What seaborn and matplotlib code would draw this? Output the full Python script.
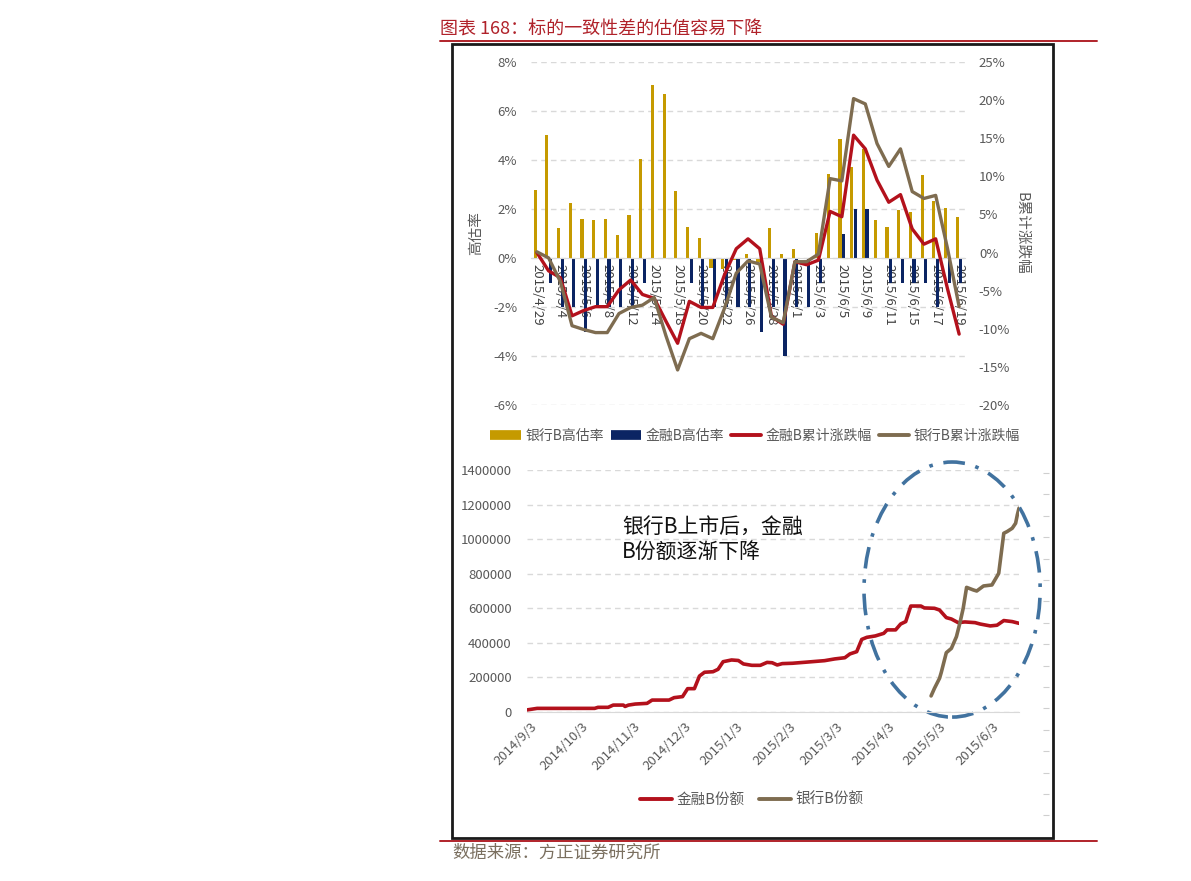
import numpy as np
import pandas as pd
import matplotlib
matplotlib.use('Agg')
import matplotlib.pyplot as plt
from matplotlib.patches import Ellipse, Rectangle
from matplotlib.lines import Line2D
import seaborn as sns

sns.set_style('white')
plt.rcParams['font.family'] = ['Noto Sans CJK SC', 'DejaVu Sans']
plt.rcParams['axes.unicode_minus'] = False

# ---- top chart data (percent) ----
dates_top = ['2015/4/29', '2015/4/30', '2015/5/4', '2015/5/5', '2015/5/6', '2015/5/7',
             '2015/5/8', '2015/5/11', '2015/5/12', '2015/5/13', '2015/5/14', '2015/5/15',
             '2015/5/18', '2015/5/19', '2015/5/20', '2015/5/21', '2015/5/22', '2015/5/25',
             '2015/5/26', '2015/5/27', '2015/5/28', '2015/5/29', '2015/6/1', '2015/6/2',
             '2015/6/3', '2015/6/4', '2015/6/5', '2015/6/8', '2015/6/9', '2015/6/10',
             '2015/6/11', '2015/6/12', '2015/6/15', '2015/6/16', '2015/6/17', '2015/6/18',
             '2015/6/19']
bank_prem = [2.76, 5.03, 1.22, 2.24, 1.60, 1.56, 1.60, 0.94, 1.75, 4.06, 7.05, 6.71,
             2.72, 1.26, 0.83, -0.41, -0.45, -0.10, 0.16, -0.16, 1.22, 0.16, 0.35, 0.0,
             1.03, 3.44, 4.84, 3.72, 4.45, 1.56, 1.26, 1.94, 1.89, 3.40, 2.34, 2.04, 1.66]
fin_prem = [0, -1.0, -2.0, -2.0, -3.0, -2.0, -2.0, -2.0, -2.0, -1.0, 0, 0,
            0, -1.0, -2.0, -2.0, -2.0, -2.0, -2.0, -3.0, -2.0, -4.0, -2.0, -2.0,
            -1.0, 0, 1.0, 2.0, 2.0, 0, -1.0, -1.0, -1.0, -1.0, -2.0, -1.0, -1.0]
fin_ret = [0.0, -2.4, -3.3, -8.3, -7.6, -7.1, -7.1, -4.9, -3.6, -5.5, -6.0, -9.0,
           -11.9, -6.4, -7.2, -7.2, -2.9, 0.5, 1.8, 0.5, -8.4, -9.4, -1.2, -1.6,
           -1.0, 5.4, 4.7, 15.4, 13.6, 9.5, 6.6, 7.6, 3.1, 1.1, 1.8, -4.7, -10.7]
bank_ret = [0.1, -0.7, -3.8, -9.6, -10.1, -10.5, -10.5, -8.0, -7.2, -6.9, -5.9, -10.9,
            -15.4, -11.3, -10.6, -11.3, -7.3, -2.7, -1.1, -1.5, -8.5, -9.2, -1.2, -1.2,
            -0.2, 9.7, 9.4, 20.2, 19.5, 14.3, 11.3, 13.6, 8.0, 7.1, 7.5, 0.6, -7.1]

# ---- bottom chart data (shares) ----
fin_share_dates = ['2014-09-01', '2014-09-07', '2014-10-11', '2014-10-13', '2014-10-19',
                   '2014-10-22', '2014-10-28', '2014-10-29', '2014-10-31', '2014-11-04',
                   '2014-11-11', '2014-11-14', '2014-11-24', '2014-11-27', '2014-12-02',
                   '2014-12-05', '2014-12-09', '2014-12-12', '2014-12-15', '2014-12-20',
                   '2014-12-23', '2014-12-26', '2014-12-31', '2015-01-04', '2015-01-07',
                   '2015-01-12', '2015-01-17', '2015-01-21', '2015-01-24', '2015-01-27',
                   '2015-01-30', '2015-02-05', '2015-02-14', '2015-02-24', '2015-03-02',
                   '2015-03-08', '2015-03-11', '2015-03-15', '2015-03-18', '2015-03-21',
                   '2015-03-26', '2015-03-31', '2015-04-02', '2015-04-07', '2015-04-10',
                   '2015-04-13', '2015-04-16', '2015-04-22', '2015-04-24', '2015-04-30',
                   '2015-05-03', '2015-05-07', '2015-05-10', '2015-05-14', '2015-05-18',
                   '2015-05-24', '2015-05-27', '2015-06-02', '2015-06-06', '2015-06-10',
                   '2015-06-15', '2015-06-19']
fin_share = [12000, 21000, 21000, 27000, 27000, 40000, 40000, 32000, 40000, 46000,
             50000, 69000, 69000, 83000, 89000, 135000, 135000, 208000, 230000, 233000,
             247000, 291000, 301000, 298000, 278000, 270000, 270000, 287000, 285000, 272000,
             280000, 282000, 289000, 297000, 307000, 314000, 336000, 349000, 420000, 432000,
             440000, 455000, 475000, 475000, 509000, 523000, 613000, 613000, 602000, 600000,
             590000, 546000, 538000, 517000, 521000, 517000, 509000, 498000, 502000, 529000,
             523000, 513000]
bank_share_dates = ['2015-04-28', '2015-04-30', '2015-05-03', '2015-05-04', '2015-05-07',
                    '2015-05-10', '2015-05-13', '2015-05-15', '2015-05-17', '2015-05-19',
                    '2015-05-23', '2015-05-25', '2015-05-29', '2015-06-03', '2015-06-07',
                    '2015-06-10', '2015-06-12', '2015-06-15', '2015-06-17', '2015-06-18',
                    '2015-06-19']
bank_share = [93000, 137000, 195000, 228000, 343000, 368000, 436000, 513000, 600000, 721000,
              706000, 700000, 729000, 735000, 802000, 1034000, 1044000, 1063000, 1092000,
              1140000, 1179000]
bottom_ticks = ['2014/9/3', '2014/10/3', '2014/11/3', '2014/12/3', '2015/1/3', '2015/2/3',
                '2015/3/3', '2015/4/3', '2015/5/3', '2015/6/3']

GOLD = '#C59A00'
NAVY = '#0B2463'
RED = '#B3111C'
BROWN = '#7E6C50'
GRID = '#D9D9D9'
TXT = '#595959'

W, H = 1191, 881
fig = plt.figure(figsize=(W / 100, H / 100), dpi=100)

# ================= top chart =================
ax1 = fig.add_axes([531 / W, 1 - 405 / H, 434 / W, 343 / H])
df = pd.DataFrame({'date': dates_top, '银行B高估率': bank_prem, '金融B高估率': fin_prem})
long = df.melt(id_vars='date', var_name='series', value_name='v')
sns.barplot(data=long, x='date', y='v', hue='series', palette=[GOLD, NAVY],
            width=0.6, gap=0.1, saturation=1, errorbar=None, legend=False,
            linewidth=0, ax=ax1)
ax1.set_ylim(-6, 8)
ax1.set_xlim(-0.5, len(dates_top) - 0.5)
ax1.set_yticks(range(-6, 9, 2))
ax1.set_yticklabels([f'{v}%' for v in range(-6, 9, 2)])
ax1.yaxis.grid(True, color=GRID, ls=(0, (4, 3)), lw=1)
ax1.set_axisbelow(True)
for s in ['top', 'left', 'right']:
    ax1.spines[s].set_visible(False)
ax1.spines['bottom'].set_position(('data', 0))
ax1.spines['bottom'].set_color(GRID)
ax1.set_xticks(range(0, len(dates_top), 2))
ax1.set_xticklabels(dates_top[::2], rotation=270, fontsize=9.5, color='#404040')
ax1.tick_params(axis='x', length=0, pad=4)
ax1.tick_params(axis='y', length=0, pad=10, labelsize=9.5, labelcolor=TXT)
ax1.set_xlabel('')
ax1.set_ylabel('高估率', fontsize=10.5, color=TXT)
ax1.yaxis.set_label_coords(-0.111, 0.5)

ax1r = ax1.twinx()
xs = np.arange(len(dates_top))
sns.lineplot(x=xs, y=fin_ret, ax=ax1r, color=RED, lw=2.4)
sns.lineplot(x=xs, y=bank_ret, ax=ax1r, color=BROWN, lw=2.4)
ax1r.set_ylim(-20, 25)
ax1r.set_xlim(-0.5, len(dates_top) - 0.5)
ax1r.set_yticks(range(-20, 26, 5))
ax1r.set_yticklabels([f'{v}%' for v in range(-20, 26, 5)])
ax1r.tick_params(axis='y', length=0, pad=10, labelsize=9.5, labelcolor=TXT)
for s in ax1r.spines.values():
    s.set_visible(False)
ax1r.set_ylabel('B累计涨跌幅', fontsize=10.5, color=TXT, rotation=270, va='center')
ax1r.yaxis.set_label_coords(1.131, 0.5)

top_handles = [Line2D([], [], color=GOLD, lw=7, solid_capstyle='butt'),
               Line2D([], [], color=NAVY, lw=7, solid_capstyle='butt'),
               Line2D([], [], color=RED, lw=2.8),
               Line2D([], [], color=BROWN, lw=2.8)]
fig.legend(top_handles, ['银行B高估率', '金融B高估率', '金融B累计涨跌幅', '银行B累计涨跌幅'],
           loc='center', bbox_to_anchor=(755 / W, 1 - 436 / H), ncol=4, frameon=False,
           fontsize=10, labelcolor=TXT, handlelength=2.2, handletextpad=0.3,
           columnspacing=0.5)

# ================= bottom chart =================
ax2 = fig.add_axes([527 / W, 1 - 712 / H, 492 / W, 242 / H])
sns.lineplot(x=pd.to_datetime(fin_share_dates), y=fin_share, ax=ax2, color=RED, lw=2.6)
sns.lineplot(x=pd.to_datetime(bank_share_dates), y=bank_share, ax=ax2, color=BROWN, lw=2.6)
ax2.set_ylim(0, 1400000)
ax2.set_xlim(pd.Timestamp('2014-09-01'), pd.Timestamp('2015-06-19'))
ax2.set_yticks(range(0, 1400001, 200000))
ax2.set_yticklabels([str(v) for v in range(0, 1400001, 200000)])
ax2.yaxis.grid(True, color=GRID, ls=(0, (4, 3)), lw=1)
ax2.set_axisbelow(True)
for s in ['top', 'left', 'right']:
    ax2.spines[s].set_visible(False)
ax2.spines['bottom'].set_color(GRID)
ax2.set_xticks(pd.to_datetime(bottom_ticks))
ax2.set_xticklabels(bottom_ticks, rotation=45, ha='right', va='top', rotation_mode='anchor')
ax2.tick_params(axis='x', length=0, pad=6, labelsize=9.5, labelcolor=TXT)
ax2.tick_params(axis='y', length=0, pad=11, labelsize=9.5, labelcolor=TXT)
ax2.set_xlabel('')
ax2.set_ylabel('')

ax2.text(0.193, 0.81, '银行B上市后，金融\nB份额逐渐下降', transform=ax2.transAxes,
         fontsize=15, color='#111111', va='top', ha='left', linespacing=1.25)
ax2.add_patch(Ellipse((0.864, 0.506), 0.358, 1.054, transform=ax2.transAxes,
                      fill=False, ec='#41729F', lw=2.6, ls=(0, (6, 3, 1, 3)),
                      clip_on=False))

bot_handles = [Line2D([], [], color=RED, lw=2.8), Line2D([], [], color=BROWN, lw=2.8)]
fig.legend(bot_handles, ['金融B份额', '银行B份额'], loc='center',
           bbox_to_anchor=(752 / W, 1 - 800 / H), ncol=2, frameon=False, fontsize=10.5,
           labelcolor=TXT, handlelength=2.2, handletextpad=0.3, columnspacing=1.0)

# ---- frame decorations ----
deco = fig.add_axes([452 / W, 1 - 836 / H, (1049 - 452) / W, (836 - 466) / H])
deco.patch.set_alpha(0)
for s in deco.spines.values():
    s.set_visible(False)
deco.set_xlim(452, 1049)
deco.set_ylim(836, 466)
deco.set_xticks([539, 625, 710, 796, 882, 967])
deco.yaxis.tick_right()
deco.set_yticks(np.arange(473, 836, 21.4))
deco.tick_params(axis='x', direction='in', length=10, color='#cfcfcf', labelbottom=False)
deco.tick_params(axis='y', direction='in', length=4, color='#cfcfcf', labelright=False,
                 labelleft=False)

fig.add_artist(Rectangle((452 / W, 1 - 838 / H), (1053 - 452) / W, (838 - 44) / H,
                         transform=fig.transFigure, fill=False, ec='#1a1a1a', lw=2))
fig.add_artist(Line2D([440 / W, 1097 / W], [1 - 41 / H] * 2, color='#B0222A', lw=1.4))
fig.add_artist(Line2D([440 / W, 1097 / W], [1 - 841 / H] * 2, color='#B0222A', lw=1.4))
fig.text(440 / W, 1 - 30 / H, '图表 168：标的一致性差的估值容易下降', fontsize=13,
         color='#B0222A', va='center', ha='left')
fig.text(452 / W, 1 - 853 / H, '数据来源：方正证券研究所', fontsize=12.5,
         color='#7A6F5F', va='center', ha='left')

fig.savefig('out.png', dpi=100)
